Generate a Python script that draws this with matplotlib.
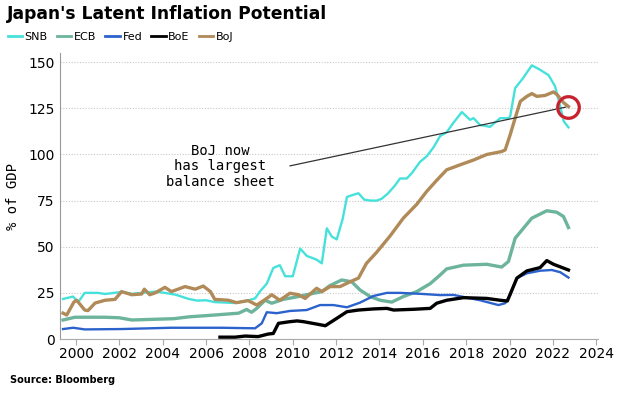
import matplotlib
matplotlib.use("Agg")
import matplotlib.pyplot as plt

# values (% of GDP)
snb_x = [1999.4, 1999.86, 2000.1, 2000.4, 2001.0, 2001.34, 2002.1, 2002.6, 2003.0, 2003.65,
         2004.1, 2004.6, 2005.2, 2005.6, 2006.0, 2006.4, 2007.34, 2007.9, 2008.26, 2008.5,
         2008.8, 2009.1, 2009.4, 2009.65, 2010.0, 2010.34, 2010.65, 2010.88, 2011.1, 2011.34,
         2011.57, 2011.8, 2012.03, 2012.3, 2012.5, 2012.75, 2013.03, 2013.3, 2013.6, 2013.87,
         2014.1, 2014.4, 2014.7, 2014.95, 2015.26, 2015.5, 2015.87, 2016.18, 2016.5, 2016.8,
         2017.1, 2017.4, 2017.8, 2018.18, 2018.34, 2018.64, 2019.1, 2019.57, 2019.95, 2020.03,
         2020.26, 2020.6, 2021.03, 2021.4, 2021.8, 2022.1, 2022.3, 2022.5, 2022.72]
snb_y = [21.7, 23, 20, 25, 25, 24.4, 25.5, 24.5, 25, 25.7,
         25, 24, 21.7, 20.8, 21, 20, 19.5, 20.8, 22, 26,
         30, 38.5, 40, 34, 34, 49, 45, 44, 43, 41,
         60, 55.5, 54, 65, 77, 78, 79, 75.5, 75, 75,
         76, 79, 83, 87, 87, 90, 96, 99, 104, 110,
         112, 117, 123, 118.8, 119.7, 116, 115, 119.7, 119.7, 120.6,
         136, 141, 148.3, 146, 143, 137, 128, 118, 114.7]

ecb_x = [1999.4, 1999.95, 2001.34, 2002.0, 2002.57, 2003.65, 2004.5, 2005.2, 2006.4, 2007.5,
         2007.87, 2008.1, 2008.34, 2008.72, 2009.03, 2009.57, 2010.26, 2010.64, 2011.34, 2011.72,
         2012.26, 2012.72, 2013.1, 2013.57, 2014.03, 2014.57, 2015.1, 2015.72, 2016.34, 2016.8,
         2017.1, 2017.87, 2018.95, 2019.64, 2019.95, 2020.26, 2020.64, 2021.03, 2021.72, 2022.18,
         2022.49, 2022.72]
ecb_y = [10.3, 11.8, 11.8, 11.5, 10.3, 10.7, 11, 12, 13, 14,
         16, 14.5, 16.6, 21, 19.4, 21.5, 23, 24, 25.7, 29,
         32, 31, 26.6, 23, 21, 20, 23, 25.7, 30, 34.7,
         38, 40, 40.5, 39, 42, 54.6, 60, 65.5, 69.5, 68.7,
         66.4, 60.4]

fed_x = [1999.4, 1999.87, 2000.4, 2002.1, 2004.4, 2006.7, 2008.26, 2008.57, 2008.8, 2009.26,
         2009.87, 2010.64, 2011.26, 2011.87, 2012.5, 2013.1, 2013.72, 2014.34, 2014.95, 2015.87,
         2016.8, 2017.41, 2018.64, 2019.49, 2019.8, 2020.03, 2020.34, 2020.8, 2021.41, 2021.95,
         2022.34, 2022.72]
fed_y = [5.4, 6.1, 5.2, 5.4, 6.1, 6.1, 5.8, 8.5, 14.5, 14,
         15.2, 15.7, 18.4, 18.4, 17.2, 19.7, 23.3, 25, 25, 24.5,
         23.8, 23.9, 21, 18.4, 19.4, 23.9, 33, 35.6, 37, 37.4,
         36.2, 33.3]

boe_x = [2006.64, 2007.34, 2007.8, 2008.4, 2008.87, 2009.1, 2009.34, 2009.87, 2010.2, 2010.49,
         2011.1, 2011.5, 2012.03, 2012.5, 2013.03, 2013.72, 2014.34, 2014.65, 2015.57, 2016.34,
         2016.64, 2017.1, 2017.87, 2018.95, 2019.57, 2019.9, 2020.34, 2020.8, 2021.41, 2021.72,
         2022.03, 2022.72]
boe_y = [1, 1, 1.6, 1.3, 2.7, 3, 8.5, 9.4, 9.8, 9.4,
         8.1, 7.2, 11.2, 14.8, 15.7, 16.3, 16.6, 15.7, 16.1, 16.6,
         19.4, 21, 22.4, 22, 21, 20.6, 33, 36.9, 38.7, 42.5,
         40.5, 37.4]

boj_x = [1999.4, 1999.57, 1999.9, 2000.03, 2000.4, 2000.55, 2000.88, 2001.34, 2001.8, 2002.1,
         2002.57, 2003.03, 2003.15, 2003.4, 2003.65, 2004.1, 2004.4, 2005.03, 2005.5, 2005.87,
         2006.2, 2006.4, 2007.03, 2007.4, 2007.94, 2008.34, 2008.8, 2009.03, 2009.4, 2009.87,
         2010.26, 2010.57, 2011.1, 2011.34, 2011.72, 2012.18, 2012.64, 2013.03, 2013.4, 2013.87,
         2014.5, 2015.1, 2015.72, 2016.18, 2016.64, 2017.1, 2017.72, 2018.34, 2018.95, 2019.64,
         2019.8, 2020.03, 2020.26, 2020.5, 2020.8, 2021.03, 2021.26, 2021.64, 2022.03, 2022.2,
         2022.5, 2022.72]
boj_y = [14, 13, 20, 21, 15.7, 15.4, 19.5, 21, 21.5, 25.7,
         24, 24.4, 27, 24, 25, 28, 25.7, 28.4, 27, 28.7,
         25.7, 21.5, 21, 19.7, 20.8, 18.4, 22, 24, 21, 24.8,
         24, 22, 27.5, 25.7, 28.4, 28.4, 31, 33, 41, 47,
         56, 65.5, 73, 80, 86, 91.7, 94.4, 97, 100, 101.6,
         102.5, 110.7, 119.7, 128.8, 131.5, 133, 131.5, 132, 133.9, 132.4,
         128, 126]

years = list(range(2000, 2025, 2))
yticks = [0, 25, 50, 75, 100, 125, 150]

fig = plt.figure(figsize=(6.27, 4.01), dpi=100)
ax = fig.add_axes([0.0957, 0.1546, 0.8583, 0.7132])

ax.plot(snb_x, snb_y, color="#47e1dc", lw=1.7, label="SNB")
ax.plot(ecb_x, ecb_y, color="#6db49c", lw=2.4, label="ECB")
ax.plot(fed_x, fed_y, color="#2c62cc", lw=1.7, label="Fed")
ax.plot(boe_x, boe_y, color="black", lw=2.4, label="BoE")
ax.plot(boj_x, boj_y, color="#b08a58", lw=2.4, label="BoJ")

# annotation
ax.annotate("", xy=(2022.72, 126), xytext=(2009.74, 93.5),
            arrowprops=dict(arrowstyle="-", color="#333333", lw=0.9))
ax.text(2006.65, 93.5, "BoJ now\nhas largest\nbalance sheet", ha="center", va="center",
        family="DejaVu Sans Mono", fontsize=10, linespacing=1.15)
ax.plot([2022.72], [126], marker="o", ms=17, mfc="none", mec="#dddddd", mew=1.2, zorder=5)
ax.plot([2022.72], [126], marker="o", ms=15.5, mfc="none", mec="#c8202c", mew=2.3, zorder=6)

ax.set_xlim(1999.26, 2024.09)
ax.set_ylim(0, 155)
ax.set_xticks(years)
ax.set_yticks(yticks)
ax.tick_params(axis="x", length=4, color="#aaaaaa", labelsize=10, pad=2)
ax.tick_params(axis="y", length=0, labelsize=10, pad=4)
ax.grid(axis="y", linestyle=(0, (1, 1.5)), color="#c8c8c8", lw=0.8)
ax.set_axisbelow(True)
for s in ["top", "right"]:
    ax.spines[s].set_visible(False)
ax.spines["left"].set_color("#999999")
ax.spines["bottom"].set_color("#aaaaaa")
ax.spines["bottom"].set_linestyle((0, (1, 1)))
ax.set_ylabel("% of GDP", family="DejaVu Sans Mono", fontsize=10, labelpad=6)

fig.text(0.011, 0.965, "Japan's Latent Inflation Potential", fontsize=12.3,
         fontweight="bold", va="center")
leg = fig.legend(loc="center left", bbox_to_anchor=(0.012, 0.908), ncol=5, frameon=False,
                 fontsize=8, handlelength=1.3, handletextpad=0.25, columnspacing=0.8,
                 borderaxespad=0, borderpad=0)
for h in leg.get_lines():
    h.set_linewidth(2)
fig.text(0.016, 0.052, "Source: Bloomberg", fontsize=7, fontweight="bold", va="center")

fig.savefig("out.png", dpi=100)
